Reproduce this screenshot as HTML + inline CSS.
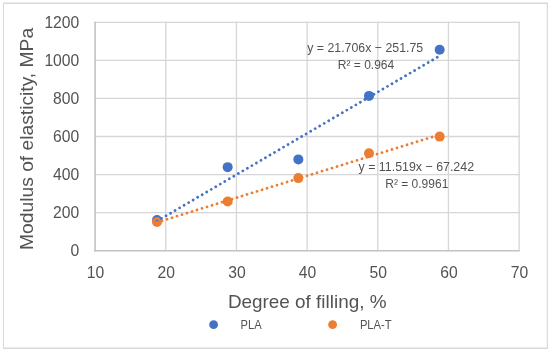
<!DOCTYPE html>
<html lang="en">
<head>
<meta charset="utf-8">
<title>Modulus of elasticity vs degree of filling</title>
<style>
html,body{margin:0;padding:0;background:#ffffff;}
body{width:550px;height:352px;overflow:hidden;}
svg{display:block;}
</style>
</head>
<body>
<svg width="550" height="352" viewBox="0 0 550 352">
<rect x="0" y="0" width="550" height="352" fill="#ffffff"/>
<g stroke="#d9d9d9" fill="none">
<line x1="3" y1="3.25" x2="547.9" y2="3.25" stroke-width="1.5"/>
<line x1="3.5" y1="2.5" x2="3.5" y2="349" stroke-width="1.1"/>
<line x1="547.3" y1="2.5" x2="547.3" y2="349" stroke-width="1.2"/>
<line x1="3" y1="348.3" x2="547.9" y2="348.3" stroke-width="1.4"/>
</g>
<g stroke="#d6d6d6" stroke-width="1.3" fill="none">
<line x1="95.10" y1="212.63" x2="519.75" y2="212.63"/>
<line x1="95.10" y1="174.57" x2="519.75" y2="174.57"/>
<line x1="95.10" y1="136.50" x2="519.75" y2="136.50"/>
<line x1="95.10" y1="98.43" x2="519.75" y2="98.43"/>
<line x1="95.10" y1="60.37" x2="519.75" y2="60.37"/>
<line x1="95.10" y1="22.30" x2="519.75" y2="22.30"/>
<line x1="165.77" y1="21.65" x2="165.77" y2="250.70"/>
<line x1="236.43" y1="21.65" x2="236.43" y2="250.70"/>
<line x1="307.10" y1="21.65" x2="307.10" y2="250.70"/>
<line x1="377.77" y1="21.65" x2="377.77" y2="250.70"/>
<line x1="448.43" y1="21.65" x2="448.43" y2="250.70"/>
<line x1="519.10" y1="21.65" x2="519.10" y2="250.70"/>
</g>
<g stroke="#c2c2c2" stroke-width="1.6" fill="none">
<line x1="94.30" y1="250.70" x2="519.75" y2="250.70"/>
<line x1="95.10" y1="21.65" x2="95.10" y2="251.50"/>
</g>
<circle cx="157.00" cy="220.00" r="5" fill="#4472c4"/>
<circle cx="227.67" cy="167.15" r="5" fill="#4472c4"/>
<circle cx="298.34" cy="159.40" r="5" fill="#4472c4"/>
<circle cx="369.00" cy="95.90" r="5" fill="#4472c4"/>
<circle cx="439.67" cy="49.70" r="5" fill="#4472c4"/>
<circle cx="157.00" cy="222.00" r="5" fill="#ed7d31"/>
<circle cx="227.67" cy="201.50" r="5" fill="#ed7d31"/>
<circle cx="298.34" cy="178.10" r="5" fill="#ed7d31"/>
<circle cx="369.00" cy="153.20" r="5" fill="#ed7d31"/>
<circle cx="439.67" cy="136.60" r="5" fill="#ed7d31"/>
<line x1="157.00" y1="221.11" x2="439.67" y2="55.86" stroke="#4472c4" stroke-width="2.8" stroke-linecap="round" stroke-dasharray="0.01 5.225"/>
<line x1="157.00" y1="222.37" x2="439.67" y2="134.67" stroke="#ed7d31" stroke-width="2.8" stroke-linecap="round" stroke-dasharray="0.01 5.225"/>
<g font-family="'Liberation Sans', Arial, sans-serif" fill="#535353">
<text x="79.3" y="256.20" font-size="15.7" text-anchor="end">0</text>
<text x="79.3" y="218.13" font-size="15.7" text-anchor="end">200</text>
<text x="79.3" y="180.07" font-size="15.7" text-anchor="end">400</text>
<text x="79.3" y="142.00" font-size="15.7" text-anchor="end">600</text>
<text x="79.3" y="103.93" font-size="15.7" text-anchor="end">800</text>
<text x="79.3" y="65.87" font-size="15.7" text-anchor="end">1000</text>
<text x="79.3" y="27.80" font-size="15.7" text-anchor="end">1200</text>
<text x="95.60" y="278.4" font-size="15.7" text-anchor="middle">10</text>
<text x="166.27" y="278.4" font-size="15.7" text-anchor="middle">20</text>
<text x="236.93" y="278.4" font-size="15.7" text-anchor="middle">30</text>
<text x="307.60" y="278.4" font-size="15.7" text-anchor="middle">40</text>
<text x="378.27" y="278.4" font-size="15.7" text-anchor="middle">50</text>
<text x="448.93" y="278.4" font-size="15.7" text-anchor="middle">60</text>
<text x="519.60" y="278.4" font-size="15.7" text-anchor="middle">70</text>
<text x="307.2" y="308.2" font-size="18.6" text-anchor="middle" textLength="158.5" lengthAdjust="spacingAndGlyphs">Degree of filling, %</text>
<text transform="translate(32.8 138.9) rotate(-90)" font-size="18.6" text-anchor="middle" textLength="222" lengthAdjust="spacingAndGlyphs">Modulus of elasticity, MPa</text>
<text x="365.2" y="52.0" font-size="13" text-anchor="middle" textLength="116" lengthAdjust="spacingAndGlyphs">y = 21.706x − 251.75</text>
<text x="366" y="69.2" font-size="13" text-anchor="middle" textLength="56.5" lengthAdjust="spacingAndGlyphs">R² = 0.964</text>
<text x="416.3" y="170.9" font-size="13" text-anchor="middle" textLength="115.5" lengthAdjust="spacingAndGlyphs">y = 11.519x − 67.242</text>
<text x="416.8" y="188.0" font-size="13" text-anchor="middle" textLength="63" lengthAdjust="spacingAndGlyphs">R² = 0.9961</text>
<text x="240.6" y="329" font-size="12" textLength="21" lengthAdjust="spacingAndGlyphs">PLA</text>
<text x="359.9" y="329" font-size="12" textLength="31.8" lengthAdjust="spacingAndGlyphs">PLA-T</text>
</g>
<circle cx="213.6" cy="324.7" r="4.4" fill="#4472c4"/>
<circle cx="332.6" cy="324.7" r="4.4" fill="#ed7d31"/>
</svg>
</body>
</html>
